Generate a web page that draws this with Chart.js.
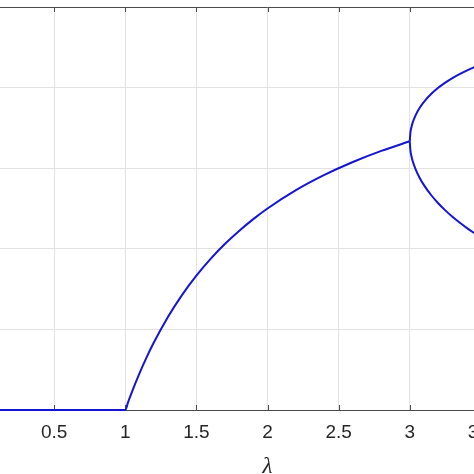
<!DOCTYPE html>
<html>
<head>
<meta charset="utf-8">
<script src="https://cdn.jsdelivr.net/npm/chart.js@4/dist/chart.umd.min.js"></script>
<style>
  html, body { margin: 0; padding: 0; background: #fff; overflow: hidden; width: 474px; height: 474px; }
  .wrap { position: absolute; left: -100px; top: 0; width: 720px; height: 490px; }
</style>
</head>
<body>
<div class="wrap"><canvas id="chart"></canvas></div>
<script>
// Stable branch: lambda vs fixed point
const lambdaMain = [0, 0.5, 1, 1.02, 1.05, 1.1, 1.15, 1.2, 1.3, 1.4, 1.5, 1.6, 1.7, 1.8, 1.9, 2.0, 2.2, 2.4, 2.6, 2.8, 3.0];
const xMain = [0, 0, 0, 0.0196, 0.0476, 0.0909, 0.1304, 0.1667, 0.2308, 0.2857, 0.3333, 0.375, 0.4118, 0.4444, 0.4737, 0.5, 0.5455, 0.5833, 0.6154, 0.6429, 0.6667];

// Period-2 branches after lambda = 3
const lambdaSplit = [3.0, 3.005, 3.01, 3.02, 3.04, 3.07, 3.1, 3.15, 3.2, 3.25, 3.3, 3.35, 3.4, 3.45, 3.5];
const xUpper = [0.6667, 0.6899, 0.6993, 0.7125, 0.7306, 0.7498, 0.7646, 0.7840, 0.7995, 0.8124, 0.8236, 0.8334, 0.8422, 0.8500, 0.8571];
const xLower = [0.6667, 0.6429, 0.6328, 0.6186, 0.5984, 0.5759, 0.5580, 0.5335, 0.5130, 0.4953, 0.4794, 0.4651, 0.4520, 0.4398, 0.4286];

const xTicks = [0, 0.5, 1, 1.5, 2, 2.5, 3, 3.5, 4];
const yTicks = [0, 0.2, 0.4, 0.6, 0.8, 1];

const toPoints = (xs, ys) => xs.map((x, i) => ({x: x, y: ys[i]}));

const lineStyle = {
  borderColor: "#1414d2",
  borderWidth: 2,
  pointRadius: 0,
  fill: false,
  clip: false,
  cubicInterpolationMode: "monotone"
};

// inward tick marks and top box edge, like the original axes box
const boxTicks = {
  id: "boxTicks",
  beforeDatasetsDraw(chart) {
    const ctx = chart.ctx;
    const a = chart.chartArea;
    const xs = chart.scales.x;
    ctx.save();
    ctx.strokeStyle = "#4a4a4a";
    ctx.lineWidth = 1;
    ctx.beginPath();
    ctx.moveTo(a.left, a.top + 0.5);
    ctx.lineTo(a.right, a.top + 0.5);
    xTicks.forEach(v => {
      const px = Math.round(xs.getPixelForValue(v)) + 0.5;
      ctx.moveTo(px, a.bottom);
      ctx.lineTo(px, a.bottom - 5);
      ctx.moveTo(px, a.top);
      ctx.lineTo(px, a.top + 5);
    });
    ctx.stroke();
    ctx.restore();
  }
};

new Chart(document.getElementById("chart"), {
  type: "line",
  data: {
    datasets: [
      Object.assign({data: toPoints(lambdaMain, xMain)}, lineStyle),
      Object.assign({data: toPoints(lambdaSplit, xUpper)}, lineStyle),
      Object.assign({data: toPoints(lambdaSplit, xLower)}, lineStyle)
    ]
  },
  options: {
    responsive: true,
    maintainAspectRatio: false,
    animation: false,
    layout: {padding: {top: 7, left: 83, right: 68, bottom: 0}},
    plugins: {legend: {display: false}, tooltip: {enabled: false}},
    scales: {
      x: {
        type: "linear",
        min: 0,
        max: 4,
        afterBuildTicks: (s) => { s.ticks = xTicks.map(v => ({value: v})); },
        afterFit: (s) => { s.height = 80; },
        grid: {color: "#e2e2e2", lineWidth: 1, drawTicks: false},
        border: {display: true, color: "#4a4a4a", width: 1},
        ticks: {
          padding: 11,
          color: "#262626",
          font: {family: "'Liberation Sans', Arial, sans-serif", size: 19},
          maxRotation: 0,
          autoSkip: false,
          callback: (v) => String(v)
        },
        title: {
          display: true,
          text: "λ",
          color: "#262626",
          padding: {top: 0, bottom: 9},
          font: {family: "'Liberation Serif', 'DejaVu Serif', serif", size: 23, style: "italic"}
        }
      },
      y: {
        type: "linear",
        min: 0,
        max: 1,
        afterBuildTicks: (s) => { s.ticks = yTicks.map(v => ({value: v})); },
        afterFit: (s) => { s.width = 0; },
        grid: {color: "#e2e2e2", lineWidth: 1, drawTicks: false},
        border: {display: false},
        ticks: {display: false}
      }
    }
  },
  plugins: [boxTicks]
});
</script>
</body>
</html>
